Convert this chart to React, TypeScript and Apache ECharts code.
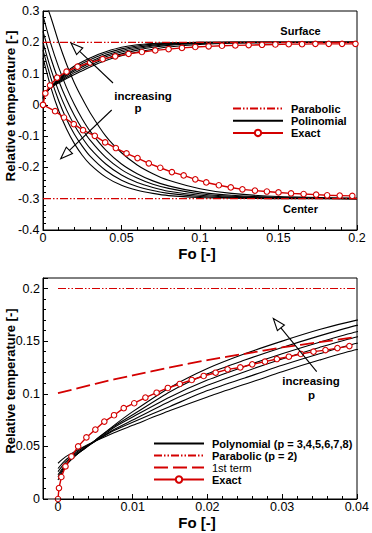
import React, { useEffect, useRef } from "react";
import * as echarts from "echarts";

const FONT = '"Liberation Sans", Arial, Helvetica, sans-serif';
const RED = "#d40000";

// ---- Top chart (Fo 0..0.2) ----
const topXTicks = { min: 0, max: 0.2, interval: 0.05 };
const topYTicks = { min: -0.4, max: 0.3, interval: 0.1 };

// Polynomial surface curves (shared by both charts)
const surfaceFo = [0, 0.001, 0.002, 0.003, 0.005, 0.0075, 0.01, 0.015, 0.02, 0.025, 0.03, 0.035, 0.04, 0.05, 0.06, 0.07, 0.08, 0.1, 0.12, 0.15, 0.2];
const surfP3 = [0.034, 0.040, 0.044, 0.048, 0.055, 0.063, 0.070, 0.084, 0.097, 0.109, 0.121, 0.132, 0.142, 0.157, 0.169, 0.178, 0.185, 0.193, 0.197, 0.199, 0.2];
const surfP4 = [0.029, 0.037, 0.042, 0.047, 0.055, 0.065, 0.073, 0.088, 0.103, 0.115, 0.127, 0.138, 0.148, 0.163, 0.175, 0.184, 0.190, 0.196, 0.199, 0.2, 0.2];
const surfP5 = [0.026, 0.035, 0.041, 0.046, 0.055, 0.066, 0.075, 0.093, 0.108, 0.121, 0.133, 0.144, 0.154, 0.169, 0.180, 0.188, 0.193, 0.198, 0.2, 0.2, 0.2];
const surfP6 = [0.023, 0.033, 0.040, 0.045, 0.055, 0.068, 0.078, 0.097, 0.113, 0.126, 0.138, 0.149, 0.159, 0.174, 0.184, 0.191, 0.195, 0.199, 0.2, 0.2, 0.2];
const surfP7 = [0.021, 0.032, 0.039, 0.045, 0.056, 0.069, 0.080, 0.102, 0.119, 0.132, 0.144, 0.155, 0.165, 0.179, 0.188, 0.194, 0.197, 0.2, 0.2, 0.2, 0.2];
const surfP8 = [0.018, 0.031, 0.039, 0.045, 0.056, 0.070, 0.083, 0.106, 0.124, 0.138, 0.150, 0.161, 0.170, 0.184, 0.192, 0.196, 0.198, 0.2, 0.2, 0.2, 0.2];

// Polynomial center curves
const centerFo = [0, 0.005, 0.01, 0.015, 0.02, 0.025, 0.03, 0.04, 0.05, 0.06, 0.07, 0.08, 0.1, 0.12, 0.15, 0.2];
const cenP3 = [0.35, 0.28, 0.2, 0.13, 0.07, 0.02, -0.025, -0.1, -0.153, -0.192, -0.22, -0.241, -0.268, -0.283, -0.293, -0.298];
const cenP4 = [0.285, 0.195, 0.12, 0.055, 0.001, -0.045, -0.084, -0.145, -0.189, -0.22, -0.243, -0.259, -0.279, -0.289, -0.296, -0.3];
const cenP5 = [0.235, 0.149, 0.077, 0.017, -0.034, -0.077, -0.113, -0.168, -0.207, -0.234, -0.254, -0.267, -0.284, -0.292, -0.297, -0.3];
const cenP6 = [0.2, 0.114, 0.043, -0.016, -0.065, -0.105, -0.139, -0.189, -0.224, -0.248, -0.264, -0.276, -0.289, -0.295, -0.298, -0.3];
const cenP7 = [0.175, 0.086, 0.013, -0.046, -0.094, -0.132, -0.164, -0.21, -0.241, -0.261, -0.274, -0.283, -0.293, -0.297, -0.299, -0.3];
const cenP8 = [0.15, 0.056, -0.019, -0.077, -0.124, -0.161, -0.19, -0.231, -0.257, -0.273, -0.283, -0.29, -0.296, -0.298, -0.3, -0.3];

// Exact solution (top chart markers)
const exactSurfTopFo = [0, 0.0015, 0.0045, 0.009, 0.015, 0.022, 0.03, 0.038, 0.046, 0.0545, 0.063, 0.0715, 0.08, 0.0885, 0.097, 0.1055, 0.114, 0.1225, 0.131, 0.1395, 0.148, 0.1565, 0.165, 0.1735, 0.182, 0.1905, 0.199];
const exactSurfTopVal = [0, 0.037, 0.062, 0.087, 0.106, 0.122, 0.135, 0.146, 0.155, 0.163, 0.169, 0.174, 0.178, 0.182, 0.185, 0.187, 0.189, 0.19, 0.191, 0.192, 0.193, 0.194, 0.194, 0.195, 0.195, 0.195, 0.195];
const exactCenTopFo = [0, 0.0077, 0.0134, 0.0196, 0.0255, 0.033, 0.0396, 0.0464, 0.0532, 0.0602, 0.0674, 0.0747, 0.0821, 0.0896, 0.097, 0.104, 0.112, 0.1196, 0.127, 0.135, 0.1426, 0.15, 0.158, 0.166, 0.174, 0.181, 0.189, 0.197];
const exactCenTopVal = [0, -0.0202, -0.0404, -0.0617, -0.0809, -0.099, -0.12, -0.138, -0.155, -0.17, -0.187, -0.201, -0.215, -0.2255, -0.238, -0.248, -0.257, -0.264, -0.27, -0.274, -0.277, -0.28, -0.283, -0.285, -0.287, -0.289, -0.29, -0.291];

// Parabolic
const parabolicFo = [0, 0.2];
const parabolicSurf = [0.2, 0.2];
const parabolicCen = [-0.3, -0.3];

// ---- Bottom chart (Fo 0..0.04) ----
const botXTicks = { min: 0, max: 0.04, interval: 0.01 };
const botYTicks = { min: 0, max: 0.21, interval: 0.05 };

const exactBotFo = [0, 0.00013, 0.00045, 0.001, 0.0018, 0.0027, 0.0038, 0.005, 0.0062, 0.0075, 0.0088, 0.0102, 0.0117, 0.0132, 0.0147, 0.0163, 0.0179, 0.0195, 0.0211, 0.0227, 0.0244, 0.026, 0.0277, 0.0293, 0.0309, 0.0325, 0.0342, 0.0358, 0.0374, 0.039];
const exactBotVal = [0, 0.0104, 0.0209, 0.031, 0.0404, 0.05, 0.0585, 0.066, 0.0736, 0.0796, 0.0863, 0.091, 0.0964, 0.101, 0.1055, 0.1093, 0.1131, 0.1169, 0.12, 0.1232, 0.125, 0.128, 0.1305, 0.133, 0.1352, 0.1378, 0.14, 0.1415, 0.1434, 0.1453];

const firstTermFo = [0, 0.005, 0.01, 0.015, 0.02, 0.025, 0.03, 0.035, 0.04];
const firstTermVal = [0.1005, 0.1095, 0.1175, 0.125, 0.132, 0.138, 0.144, 0.149, 0.154];

const botParabolicFo = [0, 0.04];
const botParabolicVal = [0.2, 0.2];

const zip = (xs: number[], ys: number[]) => xs.map((x, i) => [x, ys[i]]);

const fmt = (step: number) => (v: number) => {
  const k = v / step;
  if (Math.abs(k - Math.round(k)) > 1e-6) return "";
  return String(parseFloat(v.toFixed(4)));
};

function axisCommon(grid: number, t: { min: number; max: number; interval: number }, step: number, margin: number) {
  return {
    type: "value",
    gridIndex: grid,
    min: t.min,
    max: t.max,
    interval: t.interval,
    axisLine: { show: true, onZero: false, lineStyle: { color: "#000", width: 1 } },
    axisTick: { show: true, inside: true, length: 5, lineStyle: { color: "#000", width: 1 } },
    minorTick: { show: true, splitNumber: 5, length: 3, lineStyle: { color: "#000", width: 1 } },
    splitLine: { show: false },
    axisLabel: { color: "#000", fontSize: 12.5, lineHeight: 11, fontFamily: FONT, margin, formatter: fmt(step) },
  };
}

const arrow = (sx: number, sy: number, bx: number, by: number, tip: number[], c1: number[], c2: number[]) => [
  { type: "line", shape: { x1: sx, y1: sy, x2: bx, y2: by }, style: { stroke: "#000", lineWidth: 1.1 }, z: 100 },
  { type: "polygon", shape: { points: [tip, c1, c2] }, style: { fill: "#fff", stroke: "#000", lineWidth: 1.1 }, z: 100 },
];

const txt = (x: number, y: number, text: string, size: number, weight: string, rot = 0) => ({
  type: "text",
  x,
  y,
  rotation: rot,
  z: 100,
  style: {
    text,
    fill: "#000",
    fontSize: size,
    fontWeight: weight,
    fontFamily: FONT,
    align: "center",
    verticalAlign: "middle",
    textAlign: "center",
    textVerticalAlign: "middle",
  },
});

const NO_SYMBOL = { itemStyle: { opacity: 0 } };

export default function App() {
  const ref = useRef<HTMLDivElement>(null);
  useEffect(() => {
    if (!ref.current) return;
    const chart = echarts.init(ref.current, null, { renderer: "svg" });
    const poly = (name: string, xi: number, data: number[][]) => ({
      type: "line",
      name,
      xAxisIndex: xi,
      yAxisIndex: xi,
      data,
      symbol: "none",
      smooth: 0.25,
      lineStyle: { color: "#000", width: 1.1 },
      itemStyle: { color: "#000" },
      z: 2,
    });
    const exact = (xi: number, data: number[][]) => ({
      type: "line",
      name: "Exact",
      xAxisIndex: xi,
      yAxisIndex: xi,
      data,
      symbol: "circle",
      symbolSize: 5.5,
      showSymbol: true,
      showAllSymbol: true,
      lineStyle: { color: RED, width: 1.4 },
      itemStyle: { color: "#fff", borderColor: RED, borderWidth: 1.1 },
      z: 4,
    });
    const parab = (name: string, xi: number, data: number[][]) => ({
      type: "line",
      name,
      xAxisIndex: xi,
      yAxisIndex: xi,
      data,
      symbol: "none",
      lineStyle: { color: RED, width: 1.2, type: [8, 2, 1.5, 2, 1.5, 2] },
      itemStyle: { color: RED },
      z: 3,
    });
    const surfAll = [surfP3, surfP4, surfP5, surfP6, surfP7, surfP8];
    const cenAll = [cenP3, cenP4, cenP5, cenP6, cenP7, cenP8];
    const POLY_BOT = "Polynomial (p = 3,4,5,6,7,8)";
    const legendText = { fontSize: 11, fontWeight: "bold", color: "#000", fontFamily: FONT, padding: [0, 0, 0, 3] };

    const option = {
      animation: false,
      grid: [
        { left: 43, top: 11, width: 314, height: 219, show: true, borderColor: "#000", borderWidth: 1, backgroundColor: "transparent" },
        { left: 58, top: 278, width: 299, height: 221, show: false },
      ],
      xAxis: [axisCommon(0, topXTicks, 0.05, 2), axisCommon(1, botXTicks, 0.01, 2)],
      yAxis: [
        axisCommon(0, topYTicks, 0.1, 3.5),
        { ...axisCommon(1, botYTicks, 0.05, 3), offset: 15 },
      ],
      legend: [
        {
          orient: "vertical",
          left: 227,
          top: 98,
          itemWidth: 50,
          itemHeight: 8,
          itemGap: 1.2,
          selectedMode: false,
          data: [
            { name: "Parabolic", ...NO_SYMBOL },
            { name: "Polinomial", ...NO_SYMBOL },
            { name: "Exact" },
          ],
          textStyle: legendText,
        },
        {
          orient: "vertical",
          left: 148,
          top: 433,
          itemWidth: 50,
          itemHeight: 8,
          itemGap: 1,
          selectedMode: false,
          data: [
            { name: POLY_BOT, ...NO_SYMBOL },
            { name: "Parabolic (p = 2)", ...NO_SYMBOL },
            { name: "1st term", ...NO_SYMBOL, textStyle: { ...legendText, fontWeight: "normal" } },
            { name: "Exact" },
          ],
          textStyle: legendText,
        },
      ],
      series: [
        parab("Parabolic", 0, zip(parabolicFo, parabolicSurf)),
        parab("Parabolic", 0, zip(parabolicFo, parabolicCen)),
        ...surfAll.map((s) => poly("Polinomial", 0, zip(surfaceFo, s))),
        ...cenAll.map((s) => poly("Polinomial", 0, zip(centerFo, s))),
        exact(0, zip(exactSurfTopFo, exactSurfTopVal)),
        exact(0, zip(exactCenTopFo, exactCenTopVal)),
        parab("Parabolic (p = 2)", 1, zip(botParabolicFo, botParabolicVal)),
        ...surfAll.map((s) => poly(POLY_BOT, 1, zip(surfaceFo, s))),
        {
          type: "line",
          name: "1st term",
          xAxisIndex: 1,
          yAxisIndex: 1,
          data: zip(firstTermFo, firstTermVal),
          symbol: "none",
          smooth: 0.3,
          lineStyle: { color: RED, width: 1.8, type: [14, 5] },
          itemStyle: { color: RED },
          z: 3,
        },
        exact(1, zip(exactBotFo, exactBotVal)),
      ],
      graphic: [
        {
          type: "rect",
          shape: { x: 43, y: 278, width: 314, height: 221 },
          style: { fill: "none", stroke: "#000", lineWidth: 1 },
          z: 50,
        },
        txt(10, 106, "Relative temperature [-]", 13.5, "bold", Math.PI / 2),
        txt(10, 381, "Relative temperature [-]", 13, "bold", Math.PI / 2),
        txt(197, 253, "Fo [-]", 15, "bold"),
        txt(197, 522, "Fo [-]", 15, "bold"),
        txt(300.5, 31, "Surface", 11, "bold"),
        txt(300.5, 209, "Center", 11, "bold"),
        txt(143, 96, "increasing", 11.5, "bold"),
        txt(138, 108, "p", 11.5, "bold"),
        txt(311, 381, "increasing", 11.5, "bold"),
        txt(311.5, 395, "p", 11.5, "bold"),
        ...arrow(113, 83, 79.7, 51.3, [71, 43], [82.8, 48.0], [76.6, 54.6]),
        ...arrow(111.7, 110, 69.4, 150.4, [60.7, 158.7], [72.5, 153.6], [66.3, 147.1]),
        ...arrow(316.7, 371.7, 280.9, 327.8, [273.3, 318.5], [284.4, 325], [277.4, 330.6]),
      ],
    };
    chart.setOption(option as any);
    return () => chart.dispose();
  }, []);
  return (
    <div
      ref={ref}
      style={{ position: "absolute", left: 0, top: 0, width: 372, height: 533, background: "#fff" }}
    />
  );
}
